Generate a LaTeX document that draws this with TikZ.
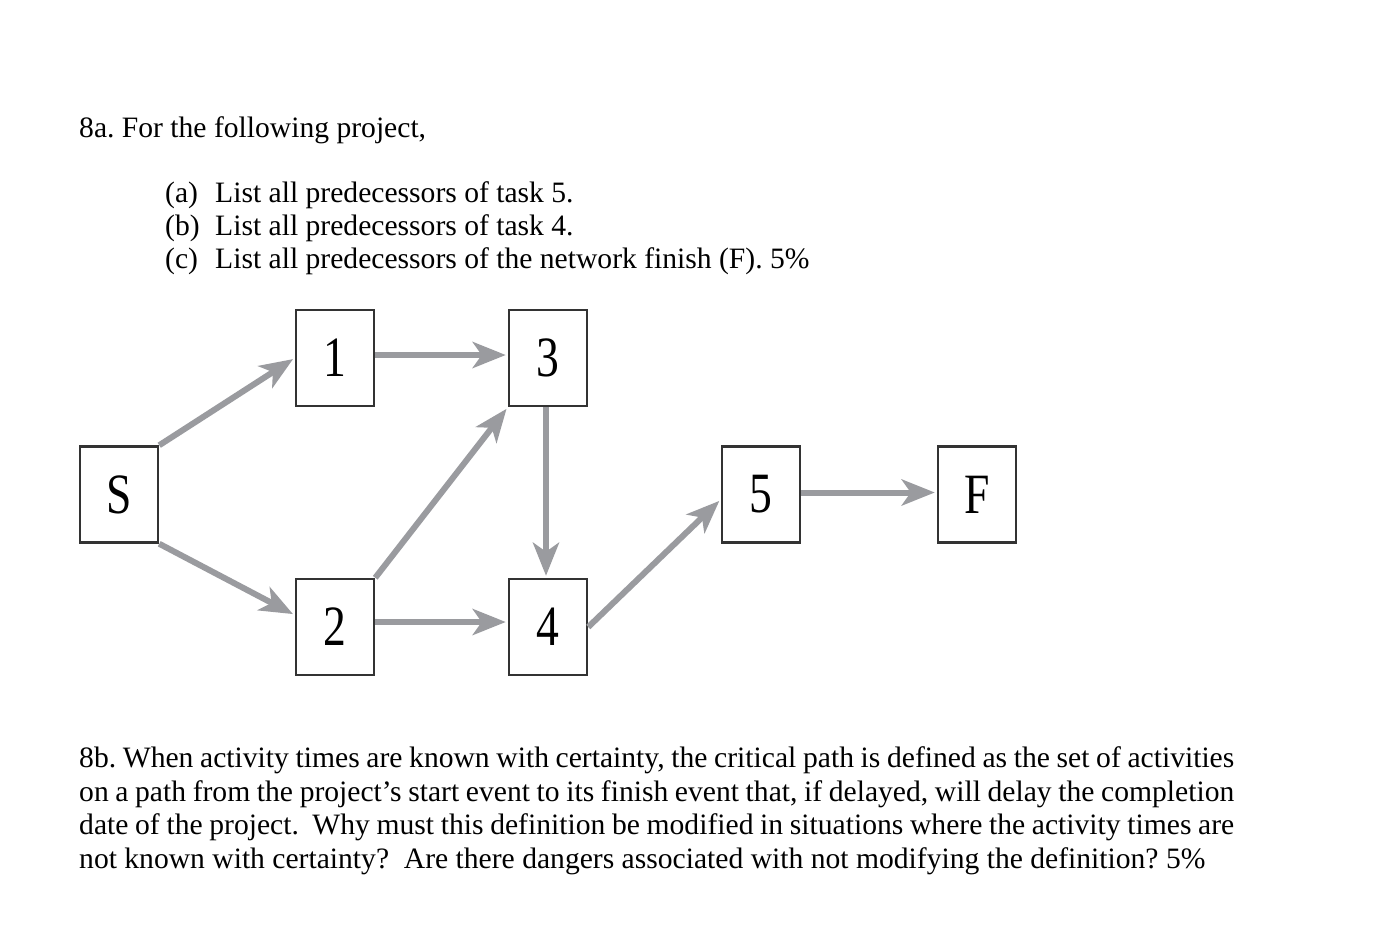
\documentclass[tikz,border=0pt]{standalone}
\usepackage{fontspec}
\setmainfont{Liberation Serif}
\usetikzlibrary{arrows.meta}
\definecolor{arrgray}{HTML}{9A9B9F}
\definecolor{boxline}{HTML}{333333}
\newcommand{\boxlbl}[1]{\scalebox{0.8}[1]{#1}}
\frenchspacing
\begin{document}
\begin{tikzpicture}[x=1pt,y=-1pt,
  box/.style={draw=boxline, line width=2.5pt, fill=white, minimum width=78pt, minimum height=96pt, inner sep=0pt, font=\fontsize{57}{57}\selectfont},
  arr/.style={draw=arrgray, line width=6pt, -{Stealth[length=33pt,width=26pt,inset=9pt]}, shorten >=2pt},
  txt/.style={anchor=base west, inner sep=0pt, font=\fontsize{29.6}{34}\selectfont}]
\useasboundingbox[fill=white] (0,0) rectangle (1380,932);

% text
\node[txt] (t8a) at (79,137) {8a. For the following project,};
\node[txt] (ta) at (165,202) {\makebox[50pt][l]{(a)}List all predecessors of task 5.};
\node[txt] (tb) at (165,235) {\makebox[50pt][l]{(b)}List all predecessors of task 4.};
\node[txt] (tc) at (165,268) {\makebox[50pt][l]{(c)}List all predecessors of the network finish (F). 5\%};

\node[txt] (b1) at (79,767) {\makebox[1155pt][s]{8b. When activity times are known with certainty, the critical path is defined as the set of activities}};
\node[txt] (b2) at (79,801) {\makebox[1155pt][s]{on a path from the project’s start event to its finish event that, if delayed, will delay the completion}};
\node[txt] (b3) at (79,834) {\makebox[1155pt][s]{date of the project.\ \ Why must this definition be modified in situations where the activity times are}};
\node[txt] (b4) at (79,868) {not known with certainty?\ \ Are there dangers associated with not modifying the definition? 5\%};

% boxes
\node[box] (S) at (119,494.5) {\boxlbl{S}};
\node[box] (n1) at (335,358) {\boxlbl{1}};
\node[box] (n3) at (548,358) {\boxlbl{3}};
\node[box] (n2) at (335,627) {\boxlbl{2}};
\node[box] (n4) at (548,627) {\boxlbl{4}};
\node[box] (n5) at (761,494.5) {\boxlbl{5}};
\node[box] (F) at (977,494.5) {\boxlbl{F}};

% arrows
\draw[arr] (S.north east) -- (n1.west);
\draw[arr] (S.south east) -- ([yshift=12pt]n2.west);
\draw[arr] ([yshift=3pt]n1.east) -- ([yshift=3pt]n3.west);
\draw[arr] (n2.north east) -- (n3.south west);
\draw[arr] ([xshift=-2pt]n3.south) -- ([xshift=-2pt]n4.north);
\draw[arr] ([yshift=5pt]n2.east) -- ([yshift=5pt]n4.west);
\draw[arr] (n4.east) -- ([yshift=-5pt]n5.west);
\draw[arr] ([yshift=2pt]n5.east) -- ([yshift=2pt]F.west);
\end{tikzpicture}
\end{document}
